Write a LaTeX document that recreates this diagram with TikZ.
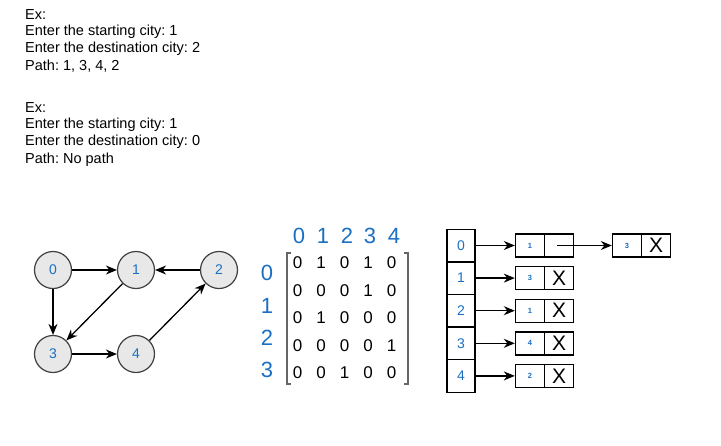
\documentclass[tikz,border=0pt]{standalone}
\usepackage{fontspec}
\setmainfont{Liberation Sans}
\usetikzlibrary{arrows.meta}
\definecolor{bl}{HTML}{1A6FC0}
\frenchspacing
\begin{document}
\begin{tikzpicture}[x=1pt,y=-1pt,
  txt/.style={anchor=west,inner sep=0pt,font=\fontsize{14.5}{15}\selectfont},
  gn/.style={circle,draw=black!75,fill=black!9,line width=1.2pt,minimum size=37pt,text=bl,font=\fontsize{14}{14}\selectfont},
  ar/.style={-{Stealth[length=11pt,width=9pt]},line width=1.3pt},
  mx/.style={font=\fontsize{17}{17}\selectfont},
  hd/.style={font=\fontsize{22}{22}\selectfont,text=bl},
  cell/.style={draw,line width=1.4pt,minimum width=29pt,minimum height=23pt,inner sep=0pt},
  ac/.style={draw,line width=1.4pt,minimum width=28pt,minimum height=32.6pt,inner sep=0pt,text=bl,font=\fontsize{14}{14}\selectfont},
  sm/.style={text=bl,font=\fontsize{7.5}{7.5}\bfseries\selectfont},
  xx/.style={font=\fontsize{21}{21}\selectfont}]
\useasboundingbox (0,0) rectangle (721,445);
\node[txt] (t1) at (25,15) {Ex:};
\node[txt] (t2) at (25,32) {Enter the starting city: 1};
\node[txt] (t3) at (25,49) {Enter the destination city: 2};
\node[txt] (t4) at (25,66) {Path: 1, 3, 4, 2};
\node[txt] (t5) at (25,108) {Ex:};
\node[txt] (t6) at (25,125) {Enter the starting city: 1};
\node[txt] (t7) at (25,142) {Enter the destination city: 0};
\node[txt] (t8) at (25,160) {Path: No path};
% graph
\node[gn] (g0) at (53,270) {0};
\node[gn] (g1) at (136,270) {1};
\node[gn] (g2) at (219,270) {2};
\node[gn] (g3) at (53,354) {3};
\node[gn] (g4) at (136,354) {4};
\draw[ar] (g0) -- (g1);
\draw[ar] (g2) -- (g1);
\draw[ar] (g0) -- (g3);
\draw[ar] (g1) -- (g3);
\draw[ar] (g3) -- (g4);
\draw[ar] (g4) -- (g2);
% matrix
\foreach \c/\x in {0/299,1/323,2/347,3/370,4/394}{\node[hd] (h\c) at (\x,236) {\c};}
\foreach \r/\y in {0/273,1/306,2/338,3/370}{\node[hd] (r\r) at (267,\y) {\r};}
\foreach \row/\y [count=\i] in {{0,1,0,1,0}/263,{0,0,0,1,0}/291,{0,1,0,0,0}/318,{0,0,0,0,1}/346,{0,0,1,0,0}/373}{
  \foreach \v/\x [count=\j] in \row {\node[mx] (m\i\j) at ({274+23.5*\j},\y) {\v};}}
\draw[black!60,line width=1.2pt] (291,253) -- (287,253) -- (287,384) -- (291,384);
\draw[black!60,line width=1.2pt] (404,253) -- (408,253) -- (408,384) -- (404,384);
% adjacency list
\foreach \k in {0,...,4}{\node[ac] (a\k) at (461,{245.5+32.6*\k}) {\k};}
\foreach \k/\v in {0/1,1/3,2/1,3/4,4/2}{
  \node[cell] (p\k) at (530,{245.5+32.6*\k}) {};
  \node[cell] (q\k) at (559,{245.5+32.6*\k}) {};
  \node[sm] at (p\k) {\v};
  \draw[ar] (a\k.east) -- (p\k.west);}
\foreach \k in {1,...,4}{\node[xx] at (q\k) {X};}
\node[cell] (s1) at (627,245.5) {};
\node[cell] (s2) at (656,245.5) {};
\node[sm] at (s1) {3};
\node[xx] at (s2) {X};
\coordinate (st) at (557,245.5);
\draw[ar] (st) -- (s1.west);
\end{tikzpicture}
\end{document}
